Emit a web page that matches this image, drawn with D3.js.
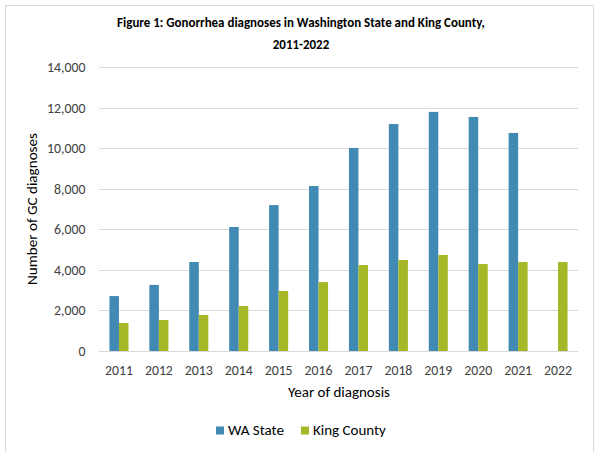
<!DOCTYPE html>
<html><head><meta charset="utf-8">
<script src="https://cdn.jsdelivr.net/npm/d3@7"></script>
<style>
html,body{margin:0;padding:0;background:#fff;}
text{font-family:Carlito, Calibri, Lato, "Open Sans", sans-serif;}
</style></head>
<body>
<svg id="chart" width="603" height="461"></svg>
<script>
const years = ["2011","2012","2013","2014","2015","2016","2017","2018","2019","2020","2021","2022"];
const waState = [2710, 3260, 4390, 6120, 7200, 8140, 10020, 11200, 11800, 11550, 10760, null];
const kingCounty = [1380, 1530, 1780, 2220, 2960, 3400, 4240, 4490, 4740, 4290, 4390, 4390];
const yTicks = [0, 2000, 4000, 6000, 8000, 10000, 12000, 14000];
const seriesNames = ["WA State", "King County"];
const seriesColors = ["#418ab3", "#a6b727"];

const svg = d3.select("#chart");
const plot = {left: 99, right: 578, top: 67.3, bottom: 351};

// scale a text's font so that its rendered width matches a target
function fitSize(sel, base, target) {
  sel.attr("font-size", base);
  const w = sel.node().getComputedTextLength();
  const s = w > 0 ? base * target / w : base;
  sel.attr("font-size", s);
  return s;
}

// chart border
svg.append("path")
  .attr("d", `M5.5,452 L5.5,5.5 L593.5,5.5 L593.5,452`)
  .attr("fill", "none").attr("stroke", "#d9d9d9").attr("stroke-width", 1);

// title
const t1 = svg.append("text").attr("x", 301).attr("y", 27).attr("text-anchor", "middle")
  .attr("font-weight", "bold").attr("fill", "#000")
  .text("Figure 1: Gonorrhea diagnoses in Washington State and King County,");
const ts = fitSize(t1, 14, 368);
const t2 = svg.append("text").attr("x", 301).attr("y", 49).attr("text-anchor", "middle")
  .attr("font-weight", "bold").attr("fill", "#000").attr("font-size", ts)
  .text("2011-2022");

const x = d3.scaleBand().domain(years).range([plot.left, plot.right]).padding(0);
const y = d3.scaleLinear().domain([0, 14000]).range([plot.bottom, plot.top]);

// gridlines
svg.append("g").selectAll("line").data(yTicks).join("line")
  .attr("x1", plot.left).attr("x2", plot.right)
  .attr("y1", d => Math.round(y(d)) + 0.5).attr("y2", d => Math.round(y(d)) + 0.5)
  .attr("stroke", "#d9d9d9").attr("stroke-width", 1);

// measure tick font size: "2011" ~ 28px wide
const probe = svg.append("text").text("2011");
const tickSize = fitSize(probe, 13, 28);
probe.remove();

// y axis labels
const yAxis = d3.axisLeft(y).tickValues(yTicks).tickFormat(d3.format(",")).tickSize(0).tickPadding(0);
const yg = svg.append("g").attr("transform", `translate(85.5,0)`).call(yAxis);
yg.select(".domain").remove();
yg.selectAll("text").attr("font-size", tickSize).attr("fill", "#404040")
  .attr("font-family", "Carlito, Calibri, Lato, 'Open Sans', sans-serif");

// x axis labels
const xAxis = d3.axisBottom(x).tickSize(0).tickPadding(0);
const xg = svg.append("g").attr("transform", `translate(0,${plot.bottom + 14})`).call(xAxis);
xg.select(".domain").remove();
xg.selectAll("text").attr("font-size", tickSize).attr("fill", "#404040")
  .attr("font-family", "Carlito, Calibri, Lato, 'Open Sans', sans-serif");

// bars
const band = x.bandwidth();
const bw = band / (2 + 2.19);
const groupOffset = (band - 2 * bw) / 2;
const seriesData = [waState, kingCounty];
seriesData.forEach((vals, si) => {
  svg.append("g").selectAll("rect")
    .data(years.map((yr, i) => ({yr, v: vals[i]})).filter(d => d.v != null))
    .join("rect")
    .attr("x", d => x(d.yr) + groupOffset + si * bw)
    .attr("width", bw)
    .attr("y", d => y(d.v))
    .attr("height", d => y(0) - y(d.v))
    .attr("fill", seriesColors[si]);
});

// axis titles
const xt = svg.append("text").attr("x", 339).attr("y", 397).attr("text-anchor", "middle")
  .attr("fill", "#000").text("Year of diagnosis");
fitSize(xt, 13.5, 102);
const yt = svg.append("text").attr("transform", "translate(37,209) rotate(-90)").attr("text-anchor", "middle")
  .attr("fill", "#000").text("Number of GC diagnoses");
fitSize(yt, 13.5, 152);

// legend
const legendX = [216, 301];
const legendW = [56, 73];
seriesNames.forEach((name, i) => {
  svg.append("rect").attr("x", legendX[i]).attr("y", 426.5).attr("width", 8).attr("height", 8)
    .attr("fill", seriesColors[i]);
  const lt = svg.append("text").attr("x", legendX[i] + 12).attr("y", 434.5)
    .attr("fill", "#000").text(name);
  fitSize(lt, 13.5, legendW[i]);
});
</script>
</body></html>
